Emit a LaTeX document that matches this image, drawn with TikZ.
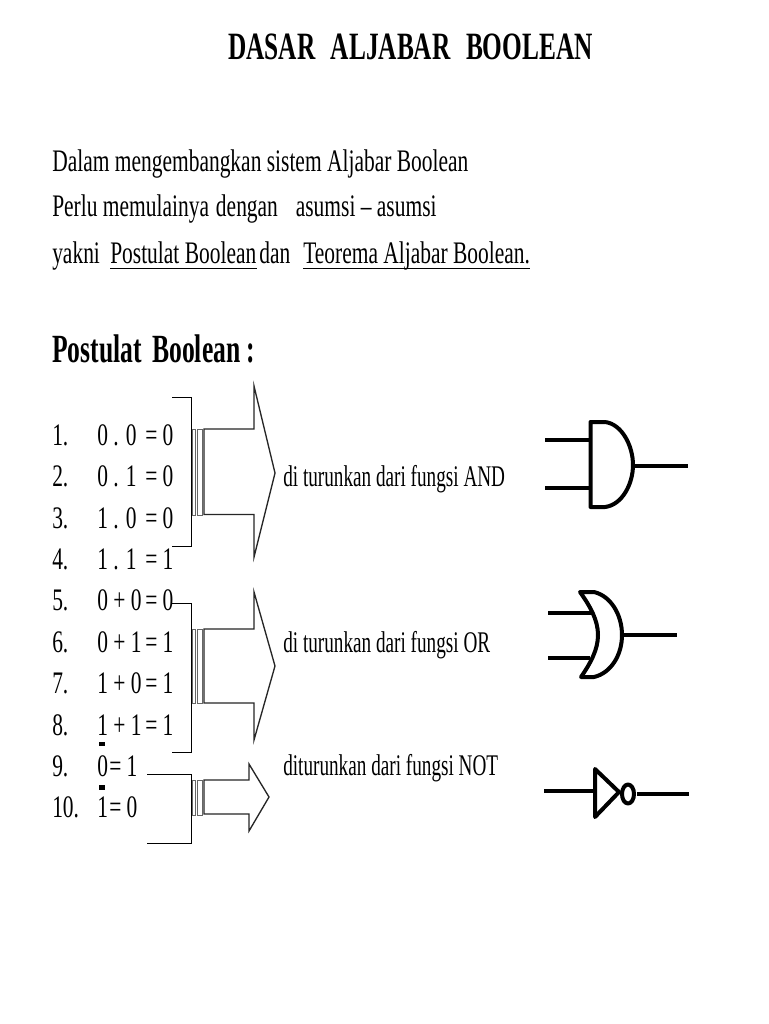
\documentclass[tikz,border=0pt]{standalone}
\usepackage{fontspec}
\setmainfont[FakeStretch=0.685]{Liberation Serif}
\newfontfamily\titleface[FakeStretch=0.655]{Liberation Serif}
\newfontfamily\subface[FakeStretch=0.64]{Liberation Serif}
\newfontfamily\noteface[FakeStretch=0.64]{Liberation Serif}
\begin{document}
\begin{tikzpicture}[x=0.75pt,y=-0.75pt,
  txt/.style={anchor=base west,inner sep=0pt,font=\fontsize{23.5}{26}\selectfont},
  note/.style={anchor=base west,inner sep=0pt,font=\noteface\fontsize{22.5}{26}\selectfont},
  head/.style={anchor=base west,inner sep=0pt,font=\titleface\fontsize{29}{32}\selectfont\bfseries},
  subhead/.style={anchor=base west,inner sep=0pt,font=\subface\fontsize{30}{32}\selectfont\bfseries},
  lin/.style={draw=black,line width=0.7pt},
  arrowline/.style={draw=black!85,line width=1pt,line join=miter},
  band/.style={draw=black!60,fill=white,line width=0.6pt},
  gate/.style={draw=black,line width=3pt,line join=round},
  wire/.style={draw=black,line width=3.6pt},
  barmark/.style={fill=black,draw=none}]
\useasboundingbox (0,0) rectangle (768,1024);
\fill[white] (0,0) rectangle (768,1024);

\node[head] (title) at (228,60) {DASAR\hspace{0.4em}ALJABAR\hspace{0.4em}BOOLEAN};
\node[txt] (l1) at (52,171) {Dalam mengembangkan sistem Aljabar Boolean};
\node[txt] (l2) at (52,216) {Perlu memulainya\hspace{0.05em} dengan\hspace{0.4em} asumsi -- asumsi};
\node[txt] (l3a) at (52,263) {yakni};
\node[txt] (l3b) at (110,263) {Postulat Boolean};
\node[txt] (l3c) at (259,263) {dan};
\node[txt] (l3d) at (303,263) {Teorema Aljabar Boolean.};
\draw[lin] (l3b.base west) ++(0,5) -- ([yshift=-3.75pt]l3b.base east);
\draw[lin] (l3d.base west) ++(0,5) -- ([yshift=-3.75pt]l3d.base east);
\node[subhead] (post) at (52,362) {Postulat\hspace{0.1em} Boolean :};

% numbered list
\foreach \n/\y/\lab/\ex/\rs/\rx in {
  a/445/1./{0 . 0}/{=\,0}/145,
  b/486/2./{0 . 1}/{=\,0}/145,
  c/528/3./{1 . 0}/{=\,0}/145,
  d/569/4./{1 . 1}/{=\,1}/145,
  e/610/5./{0 + 0}/{=\,0}/145,
  f/652/6./{0 + 1}/{=\,1}/145,
  g/693/7./{1 + 0}/{=\,1}/145,
  h/735/8./{1 + 1}/{=\,1}/145,
  i/776/9./{0}/{=\,1}/109,
  j/817/10./{1}/{=\,0}/109}{
  \node[txt] (num\n) at (52,\y) {\lab};
  \node[txt] (ex\n) at (97,\y) {\ex};
  \node[txt] (res\n) at (\rx,\y) {\rs};
}
\fill[barmark] (99,741.5) rectangle (105,745.5);
\fill[barmark] (99,785) rectangle (105,790);

% brackets
\draw[lin] (172,397) -- (191,397) -- (191,546) -- (172,546);
\draw[lin] (172,603) -- (191,603) -- (191,752) -- (172,752);
\draw[lin] (147,774) -- (191,774) -- (191,843) -- (147,843);

% arrows
\draw[band] (192,429) rectangle (195,515);
\draw[band] (197,429) rectangle (202.5,515);
\draw[arrowline] (204,429) -- (254,429) -- (254,386) -- (275,473) -- (254,557) -- (254,514.5) -- (204,514.5) -- cycle;

\draw[band] (192,629) rectangle (195,703);
\draw[band] (197,629) rectangle (202.5,703);
\draw[arrowline] (204,629) -- (254,629) -- (254,592) -- (275,666) -- (254,740) -- (254,703) -- (204,703) -- cycle;

\draw[band] (192,780) rectangle (195,815);
\draw[band] (197,780) rectangle (202.5,815);
\draw[arrowline] (204,780) -- (249,780) -- (249,764) -- (269,797) -- (249,831) -- (249,814) -- (204,814) -- cycle;

\node[note] (tand) at (283,486) {di turunkan dari fungsi AND};
\node[note] (tor) at (283,652) {di turunkan dari fungsi OR};
\node[note] (tnot) at (283,775) {diturunkan dari fungsi NOT};

% AND gate
\draw[wire] (545,440) -- (590,440);
\draw[wire] (545,488) -- (590,488);
\draw[gate] (590.5,422) -- (605,422) .. controls (622,424) and (633,446) .. (633,465)
  .. controls (633,484) and (622,505) .. (605,507) -- (590.5,507) -- cycle;
\draw[wire] (633,466) -- (688,466);

% OR gate
\draw[wire] (548,613) -- (592,613);
\draw[wire] (548,658) -- (590,658);
\draw[gate,fill=white] (580,592) -- (594,592) .. controls (611,596) and (622,615) .. (622,635)
  .. controls (622,655) and (611,673) .. (594,677) -- (581,677)
  .. controls (590,664) and (598,650) .. (598,635)
  .. controls (598,620) and (590,606) .. (580,592) -- cycle;
\draw[wire] (622,635) -- (677,635);

% NOT gate
\draw[wire] (544,791) -- (594,791);
\draw[gate] (595,769) -- (619,792) -- (595,817) -- cycle;
\draw[gate] (628,794) ellipse [x radius=6,y radius=9.5];
\draw[wire] (637,794) -- (689,794);
\end{tikzpicture}
\end{document}
